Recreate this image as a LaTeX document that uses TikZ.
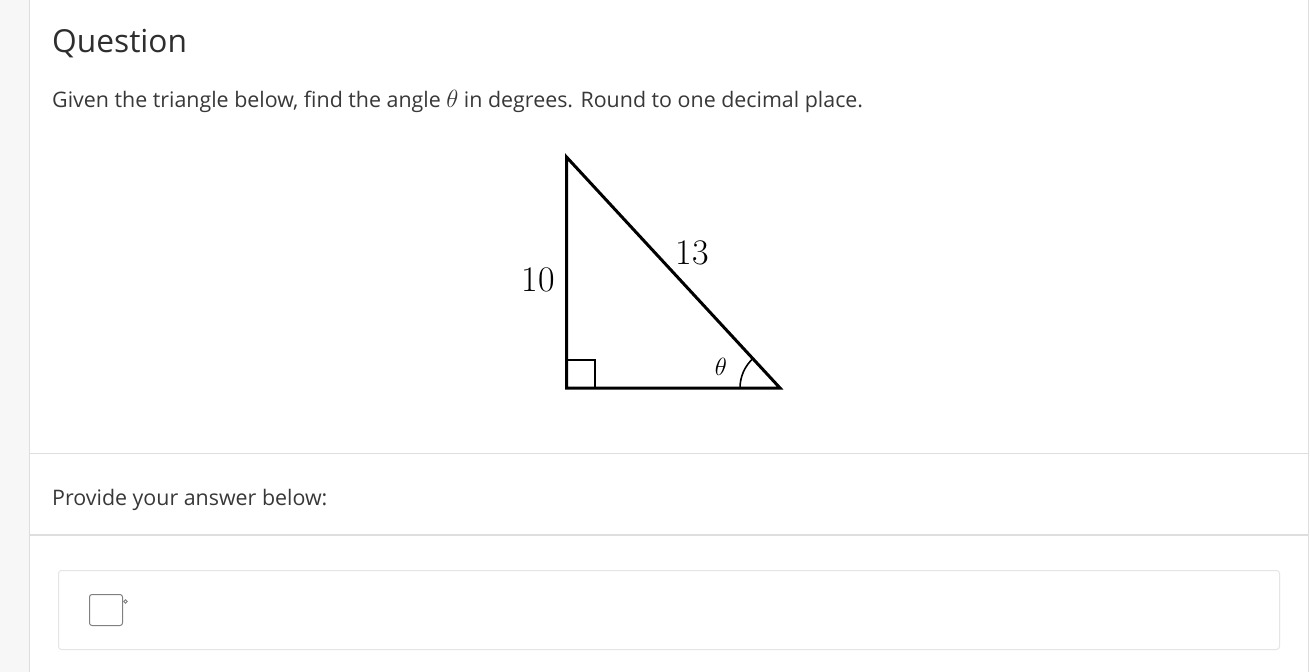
\documentclass[tikz,border=0pt]{standalone}
\usepackage[no-math]{fontspec}
\setsansfont{Open Sans}
\begin{document}
\begin{tikzpicture}[x=1pt,y=-1pt,
  sep/.style={draw=black!13,line width=1.2pt},
  txt/.style={anchor=base west,inner sep=0pt,text=black!78,font=\sffamily},
  tri/.style={line width=3pt,line join=miter},
  lab/.style={inner sep=0pt,font=\fontsize{36}{40}\selectfont}]
\useasboundingbox (0,0) rectangle (1310,672);
\fill[white] (0,0) rectangle (1310,672);
\fill[black!3] (0,0) rectangle (29,672);
\draw[sep] (29.5,0) -- (29.5,672);
\draw[sep] (1308.5,0) -- (1308.5,672);
\draw[sep] (30,453.5) -- (1308,453.5);
\draw[draw=black!13,line width=2pt] (30,535) -- (1308,535);
% texts
\node[txt,font=\sffamily\fontsize{31.7}{36}\selectfont,text=black!82] (q) at (52,52) {Question};
\node[txt,font=\sffamily\fontsize{21.4}{25}\selectfont] (g) at (52,107) {Given the triangle below, find the angle {\fontsize{25}{25}\selectfont$\theta$} in degrees. Round to one decimal place.};
\node[txt,font=\sffamily\fontsize{21.4}{25}\selectfont] (p) at (52,505) {Provide your answer below:};
% triangle
\coordinate (A) at (566.5,157);
\coordinate (B) at (566.5,388);
\coordinate (C) at (780,388);
\draw[line width=1.5pt] (566.5,360) -- (595,360) -- (595,388);
\draw[line width=1.6pt] ([xshift=-40pt]C) arc[start angle=180,end angle=132.7,radius=40pt];
\draw[tri] (A) -- (B) -- (C) -- cycle;
\node[lab] (l10) at (538,280) {10};
\node[lab] (l13) at (692,253) {13};
\node[inner sep=0pt,font=\fontsize{27}{30}\selectfont] (th) at (721,367) {$\theta$};
% answer
\draw[draw=black!10,line width=1pt,rounded corners=3pt] (58.5,570.5) rectangle (1279.5,649.5);
\draw[draw=black!50,line width=1pt,rounded corners=2.5pt] (89.5,594.5) rectangle (122.5,625.5);
\draw[draw=black!50,line width=0.8pt] (125.5,601.5) circle[radius=1.8pt];
\end{tikzpicture}
\end{document}
